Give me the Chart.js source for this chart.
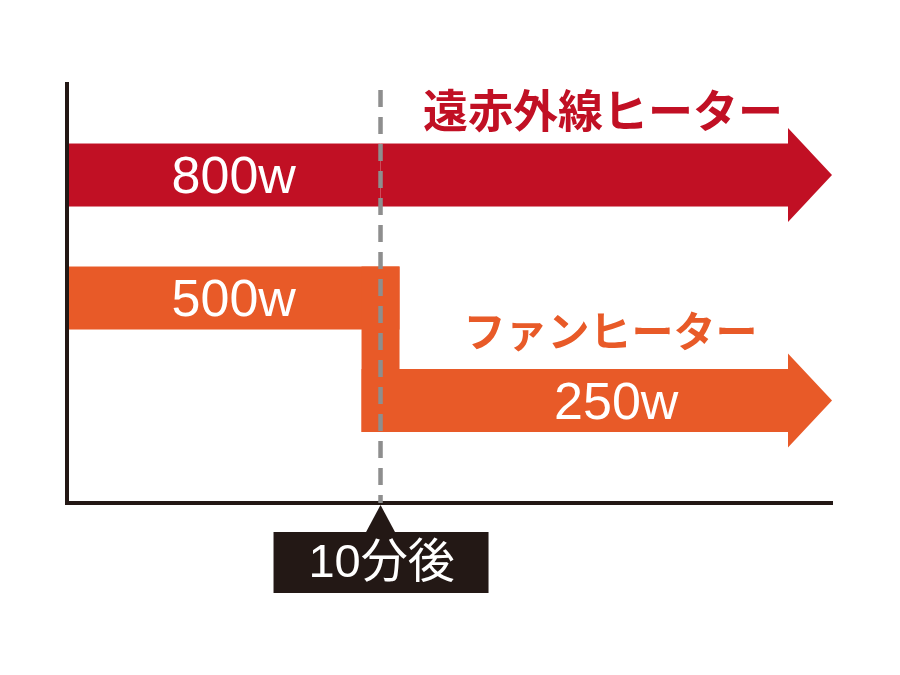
<!DOCTYPE html>
<html lang="ja">
<head>
<meta charset="utf-8">
<title>遠赤外線ヒーターとファンヒーターの消費電力</title>
<script src="https://cdn.jsdelivr.net/npm/chart.js@4.4.1/dist/chart.umd.min.js"></script>
<style>
  html, body { margin: 0; padding: 0; background: #ffffff; }
  #wrap { width: 900px; height: 675px; }
</style>
</head>
<body>
<div id="wrap"><canvas id="powerChart" width="900" height="675"></canvas></div>
<script>
// time axis (minutes): start, switch-over, end of arrow
const minutes = [0, 10, 24.4];
// power in watts at each time point (value holds until the next point)
const farInfraredW = [800, 800, 800];
const fanHeaterW = [500, 250, 250];
const seriesNames = ["遠赤外線ヒーター", "ファンヒーター"];
const switchMinute = 10;
const switchLabel = switchMinute + "分後";

const RED = "#c11024";
const ORANGE = "#e85a28";
const INK = "#231815";

function toPoints(values) {
    return values.map((v, i) => ({ x: minutes[i], y: v }));
}

// draws each series as a thick stepped arrow, using the points Chart.js placed
const arrowBands = {
    id: "arrowBands",
    afterDatasetsDraw(chart) {
        const ctx = chart.ctx;
        const area = chart.chartArea;
        const xs = chart.scales.x;
        const hh = 31.5;      // half band height
        const headLen = 44;
        const headH = 47;
        const stepHalf = 19;

        chart.data.datasets.forEach((ds, di) => {
            const pts = chart.getDatasetMeta(di).data;
            const n = pts.length;
            const tipX = pts[n - 1].x;
            const baseX = tipX - headLen;
            ctx.save();
            ctx.fillStyle = ds.bandColor;
            for (let i = 0; i < n - 1; i++) {
                const y = pts[i].y;
                const changedBefore = i > 0 && ds.data[i - 1].y !== ds.data[i].y;
                const changesAfter = ds.data[i + 1].y !== ds.data[i].y && i + 1 < n - 1;
                const left = i === 0 ? pts[0].x + 2 : pts[i].x - (changedBefore ? stepHalf : 0);
                const right = i === n - 2 ? baseX + 1 : pts[i + 1].x + (changesAfter ? stepHalf : 0);
                ctx.fillRect(left, y - hh, right - left, hh * 2);
                if (changesAfter) {
                    const yA = pts[i].y, yB = pts[i + 1].y;
                    const top = Math.min(yA, yB) - hh;
                    const bot = Math.max(yA, yB) + hh;
                    ctx.fillRect(pts[i + 1].x - stepHalf, top, stepHalf * 2, bot - top);
                }
            }
            const yl = pts[n - 2].y;
            ctx.beginPath();
            ctx.moveTo(baseX, yl - headH);
            ctx.lineTo(tipX, yl);
            ctx.lineTo(baseX, yl + headH);
            ctx.closePath();
            ctx.fill();

            // value labels: one per run, centred on the run's first segment
            ctx.fillStyle = "#ffffff";
            ctx.font = '52px "Liberation Sans", Arial, sans-serif';
            ctx.textAlign = "center";
            ctx.textBaseline = "middle";
            for (let i = 0; i < n - 1; i++) {
                if (i === 0 || ds.data[i].y !== ds.data[i - 1].y) {
                    const cx = (pts[i].x + pts[i + 1].x) / 2 + 10;
                    ctx.fillText(ds.data[i].y + "w", cx, pts[i].y + 4);
                }
            }

            // series name
            ctx.fillStyle = ds.bandColor;
            ctx.textBaseline = "middle";
            if (di === 0) {
                ctx.font = 'bold 45px "Noto Sans CJK JP", sans-serif';
                ctx.textAlign = "right";
                ctx.fillText(ds.label, baseX - 5, pts[0].y - 64);
            } else {
                ctx.font = 'bold 42px "Noto Sans CJK JP", sans-serif';
                ctx.textAlign = "left";
                ctx.fillText(ds.label, xs.getPixelForValue(switchMinute) + 83, pts[n - 2].y - 69);
            }
            ctx.restore();
        });

        // dashed switch-over line
        const sx = xs.getPixelForValue(switchMinute);
        ctx.save();
        ctx.strokeStyle = "#8e8e8e";
        ctx.lineWidth = 4.5;
        ctx.setLineDash([17, 10]);
        ctx.beginPath();
        ctx.moveTo(sx, area.top + 6);
        ctx.lineTo(sx, area.bottom);
        ctx.stroke();
        ctx.restore();

        // callout under the axis
        ctx.save();
        ctx.fillStyle = INK;
        const boxTop = area.bottom + 29;
        ctx.beginPath();
        ctx.moveTo(sx, area.bottom + 2);
        ctx.lineTo(sx + 15, boxTop + 1);
        ctx.lineTo(sx - 15, boxTop + 1);
        ctx.closePath();
        ctx.fill();
        ctx.fillRect(sx - 107, boxTop, 215, 61);
        ctx.fillStyle = "#ffffff";
        ctx.font = '47px "Liberation Sans", "Noto Sans CJK JP", sans-serif';
        ctx.textAlign = "center";
        ctx.textBaseline = "middle";
        ctx.fillText(switchLabel, sx + 1, boxTop + 32);
        ctx.restore();
    }
};

new Chart(document.getElementById("powerChart").getContext("2d"), {
    type: "line",
    data: {
        datasets: [{
            label: seriesNames[0],
            data: toPoints(farInfraredW),
            bandColor: RED,
            showLine: false,
            pointRadius: 0,
            pointHoverRadius: 0
        }, {
            label: seriesNames[1],
            data: toPoints(fanHeaterW),
            bandColor: ORANGE,
            showLine: false,
            pointRadius: 0,
            pointHoverRadius: 0
        }]
    },
    options: {
        responsive: false,
        animation: false,
        events: [],
        layout: { padding: { top: 84, right: 68, left: 0, bottom: 0 } },
        plugins: { legend: { display: false }, tooltip: { enabled: false } },
        scales: {
            x: {
                type: "linear",
                min: minutes[0],
                max: minutes[minutes.length - 1],
                z: 1,
                grid: { display: false, drawTicks: false },
                ticks: { display: false },
                border: { display: true, color: INK, width: 4 },
                afterFit(scale) { scale.height = 172; }
            },
            y: {
                type: "linear",
                min: 0,
                max: 1022,
                z: 1,
                grid: { display: false, drawTicks: false },
                ticks: { display: false },
                border: { display: true, color: INK, width: 4 },
                afterFit(scale) { scale.width = 67; }
            }
        }
    },
    plugins: [arrowBands]
});
</script>
</body>
</html>
